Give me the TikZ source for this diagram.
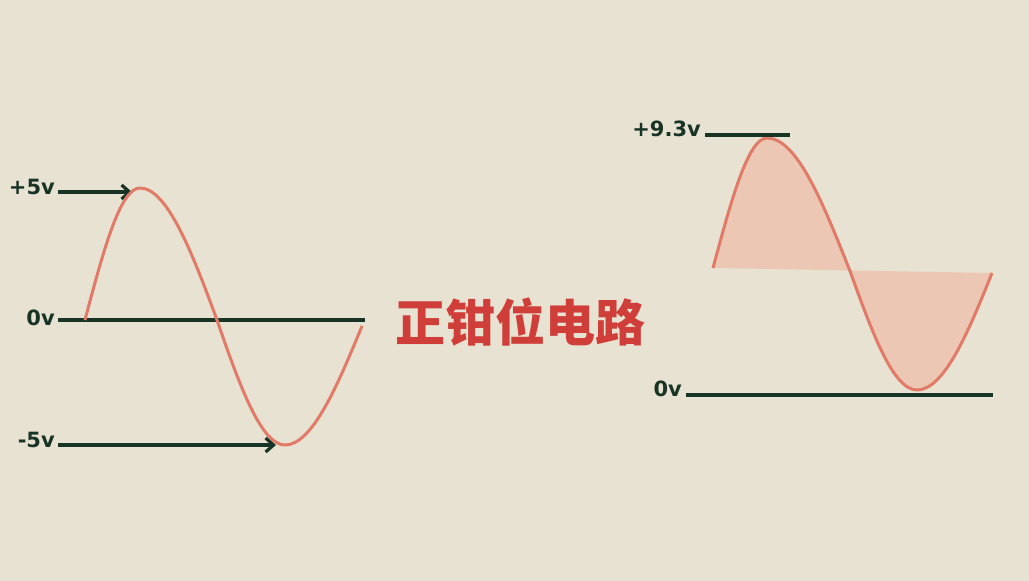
\documentclass[tikz,border=0pt]{standalone}
\usepackage{fontspec}
\setmainfont{DejaVu Sans}
\newfontfamily\cjk{Noto Sans CJK SC}
\usetikzlibrary{arrows.meta,positioning}
\definecolor{paper}{RGB}{232,226,210}
\definecolor{ink}{RGB}{24,52,38}
\definecolor{wave}{RGB}{226,122,104}
\definecolor{lobefill}{RGB}{236,200,180}
\definecolor{titlered}{RGB}{208,62,58}
\tikzstyle{level} = [font=\fontsize{21}{25}\selectfont\bfseries, text=ink, inner sep=0pt]
\tikzstyle{axis} = [draw=ink, line width=3.2pt]
\tikzstyle{pointer} = [axis, -{Straight Barb[length=8pt,width=14pt]}]
\tikzstyle{signal} = [draw=wave, line width=3pt, line join=round]

\begin{document}
\begin{tikzpicture}[x=1pt,y=-1pt]
    \fill[paper] (0,0) rectangle (1029,581);
    \useasboundingbox (0,0) rectangle (1029,581);

    % input signal
    \node[level, anchor=base east] (plus5) at (55,194) {+5v};
    \node[level, anchor=east] (zeroL) at (55,318) {0v};
    \node[level, anchor=base east] (minus5) at (55,447) {-5v};
    \coordinate (plus5tip) at (132,192);
    \coordinate (zeroLend) at (365,320);
    \coordinate (minus5tip) at (276,445);

    \draw[axis] (zeroL.east |- zeroLend) ++(3,0) -- (zeroLend);
    \draw[pointer] (plus5.base east) ++(3,-2) -- (plus5tip);
    \draw[pointer] (minus5.base east) ++(3,-2) -- (minus5tip);

    \draw[signal] (85,320) .. controls (103,252) and (120,188) .. (140,188)
        .. controls (167,188) and (192,252) .. (217,320)
        .. controls (239,384) and (261,445) .. (285,445)
        .. controls (312,445) and (337,387) .. (362,326);

    \node[font=\cjk\fontsize{50}{56}\selectfont\bfseries, text=titlered, inner sep=0pt] (title) at (520,322) {正钳位电路};

    % clamped signal
    \node[level, anchor=base east] (plus93) at (701,136) {+9.3v};
    \node[level, anchor=base east] (zeroR) at (682,396) {0v};
    \coordinate (plus93end) at (790,135);
    \coordinate (zeroRend) at (993,395);

    \fill[lobefill] (713,268) .. controls (731,201) and (748,138) .. (767,138)
        .. controls (797,138) and (823,203) .. (850,271)
        .. controls (872,332) and (893,390) .. (917,390)
        .. controls (944,390) and (968,333) .. (992,273) -- cycle;
    \draw[signal] (713,268) .. controls (731,201) and (748,138) .. (767,138)
        .. controls (797,138) and (823,203) .. (850,271)
        .. controls (872,332) and (893,390) .. (917,390)
        .. controls (944,390) and (968,333) .. (992,273);

    \draw[axis] (plus93.base east) ++(4,-1) -- (plus93end);
    \draw[axis] (zeroR.base east) ++(4,-1) -- (zeroRend);
\end{tikzpicture}
\end{document}
